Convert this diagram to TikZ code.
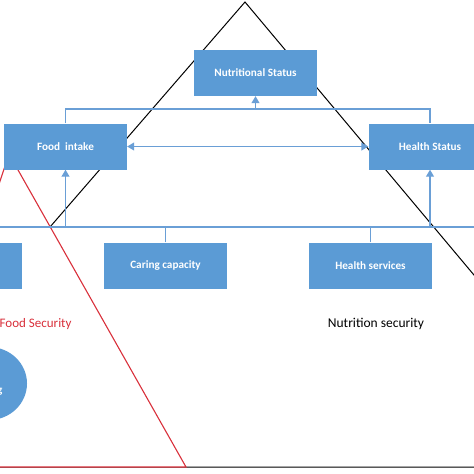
\documentclass[tikz,border=0pt]{standalone}
\usepackage{fontspec}
\setmainfont{Carlito}
\usetikzlibrary{arrows.meta, shapes.geometric}
\definecolor{boxblue}{HTML}{5B9BD5}
\definecolor{lineblue}{HTML}{6A9FD6}
\definecolor{fsred}{HTML}{D9303B}

\begin{document}
\begin{tikzpicture}[x=1pt, y=-1pt,
    box/.style={fill=boxblue, text=white, inner sep=0pt,
        minimum width=123pt, minimum height=46pt,
        font=\fontsize{11.2}{13}\selectfont\bfseries},
    link/.style={draw=lineblue, line width=1.2pt},
    tip/.style={-{Triangle[width=8pt,length=7pt]}},
    tips/.style={{Triangle[width=8pt,length=7pt]}-{Triangle[width=8pt,length=7pt]}}]
    \useasboundingbox (0,0) rectangle (474,474);
    \clip (0,0) rectangle (474,474);
    % the two triangles
    \coordinate (NSapex) at (245,2);
    \coordinate (NSleft) at (-158,467);
    \coordinate (NSright) at (635,467);
    \coordinate (FSapex) at (9,154);
    \coordinate (FSleft) at (-95,467);
    \coordinate (FSright) at (186,467);
    \draw [line width=1pt] (NSapex) -- (NSleft) -- (NSright) -- cycle;
    \draw [draw=fsred, fill=white, line width=1.1pt] (FSapex) -- (FSleft) -- (FSright) -- cycle;
    % boxes
    \node [box] (nutr) at (255.5,73) {Nutritional Status};
    \node [box] (food) at (65.5,146.5) {Food\ \ intake};
    \node [box] (hstat) at (430,146.5) {Health Status};
    \node [box] (lbox) at (-39.5,265.5) {};
    \node [box] (care) at (165.5,265.5) {Caring capacity};
    \node [box] (hserv) at (370.5,265.5) {Health services};
    \node [box] (rbox) at (535,265.5) {};
    \node [ellipse, fill=boxblue, minimum width=76pt, minimum height=73pt] (foodcirc) at (-11,383.5) {};
    \node [text=white, font=\fontsize{11.2}{13}\selectfont\bfseries, anchor=base east] (circtext) at (6,393) {g};
    % connectors
    \coordinate (busN) at (255.5,109);
    \coordinate (busL) at (0,227);
    \coordinate (busR) at (474,227);
    \coordinate (fbus) at (65.5,227);
    \coordinate (hbus) at (430,227);
    \draw [link] (food.north) |- (busN) -| (hstat.north);
    \draw [link, tip] (busN) -- (nutr.south);
    \draw [link, tips] (food.east) -- (hstat.west);
    \draw [link] (busL) -- (busR);
    \draw [link, tip] (fbus) -- (food.south);
    \draw [link, tip] (hbus) -- (hstat.south);
    \draw [link] (care.north) -- (care.north |- fbus);
    \draw [link] (hserv.north) -- (hserv.north |- fbus);
    % labels
    \node [text=fsred, font=\fontsize{13}{15}\selectfont, anchor=west, inner sep=0pt] (fslabel) at (-0.5,324) {Food Security};
    \node [font=\fontsize{13.5}{15}\selectfont, inner sep=0pt] (nslabel) at (376,324) {Nutrition security};
\end{tikzpicture}
\end{document}
